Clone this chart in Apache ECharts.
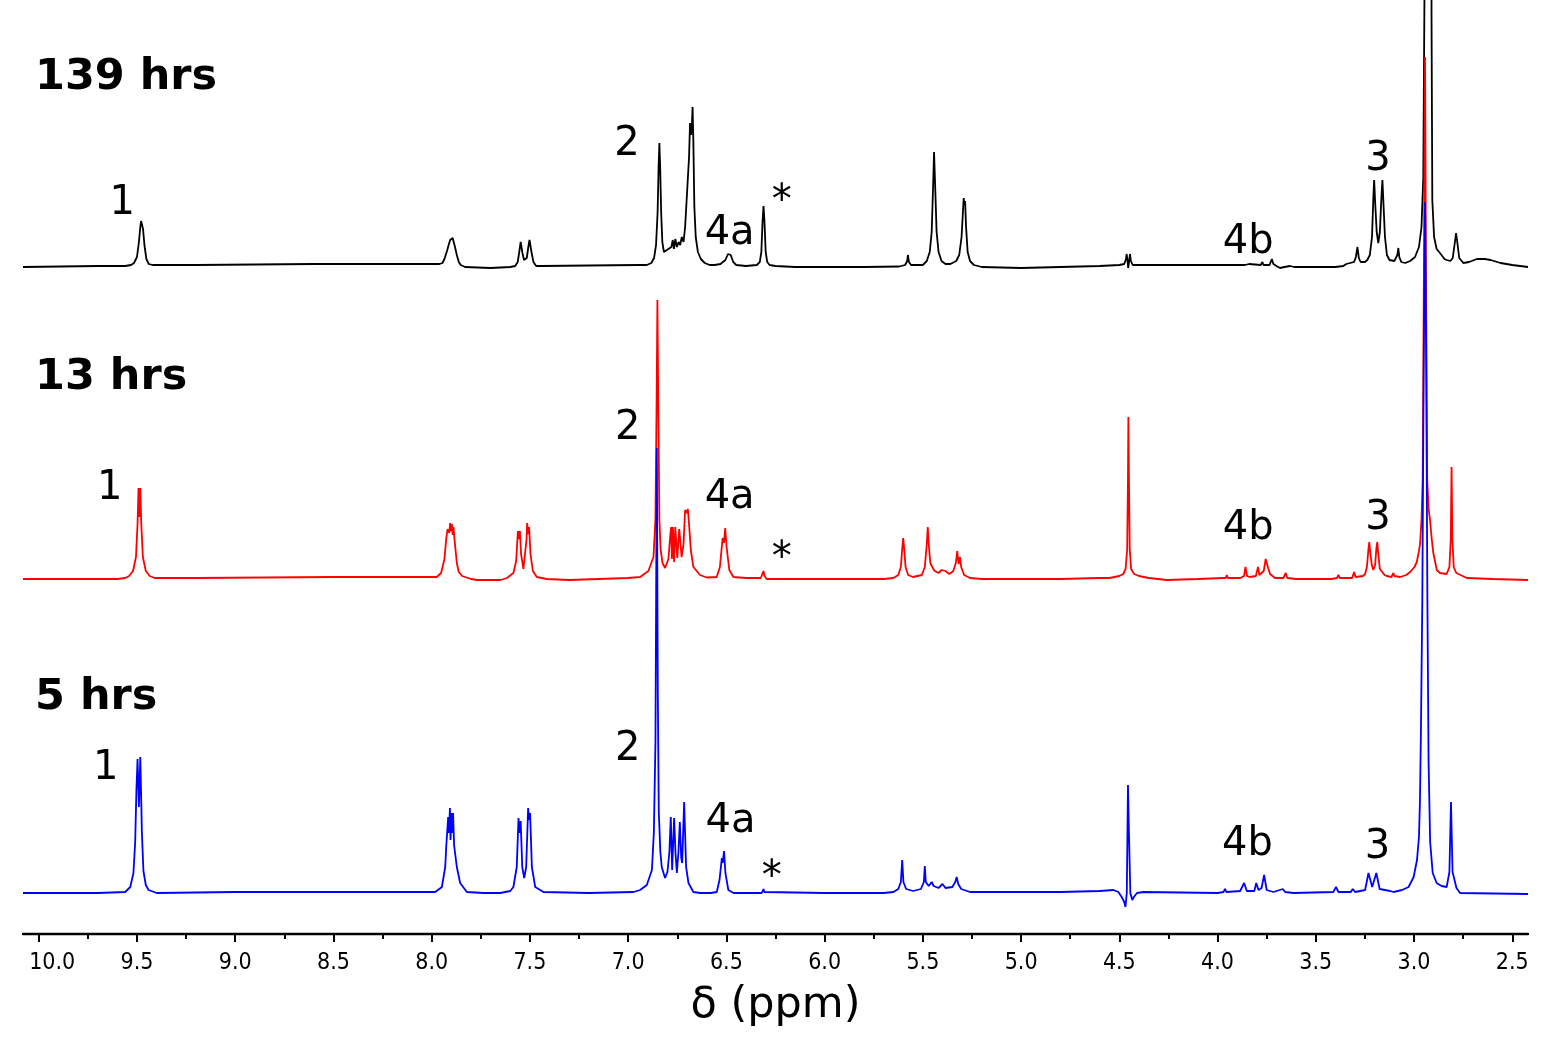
<!DOCTYPE html>
<html>
<head>
<meta charset="utf-8">
<title>NMR stack</title>
<script src="https://cdn.jsdelivr.net/npm/echarts@6/dist/echarts.min.js"></script>
<style>
html, body { margin: 0; padding: 0; background: #fff; }
#main { width: 1553px; height: 1054px; }
</style>
</head>
<body>
<div id="main"></div>
<script>
// 三条谱线的名称与颜色
var traceNames = ['139 hrs', '13 hrs', '5 hrs'];
var traceColors = ['#000000', '#ff0000', '#0000ff'];

// x轴刻度 (ppm)
var majorTicks = [10.0, 9.5, 9.0, 8.5, 8.0, 7.5, 7.0, 6.5, 6.0, 5.5, 5.0, 4.5, 4.0, 3.5, 3.0, 2.5];
var minorTicks = [9.75, 9.25, 8.75, 8.25, 7.75, 7.25, 6.75, 6.25, 5.75, 5.25, 4.75, 4.25, 3.75, 3.25, 2.75];

// 谱线数据: [ppm, 相对基线的强度]
var spec139 = [
  [10.08,0],[9.70,1],[9.56,1],[9.53,2],[9.515,4],[9.500,10],[9.490,25],[9.483,40],[9.479,46],[9.477,44],[9.474,48],[9.469,38],[9.462,22],[9.452,8],[9.440,3],[9.42,2],
  [9.2,2],[8.6,3],[8.2,3],[7.96,3],[7.945,4],[7.935,8],[7.922,16],[7.915,21],[7.906,27],[7.902,29],[7.898,26],[7.893,29],[7.889,28],[7.880,19],[7.872,12],[7.862,5],[7.852,2],[7.83,0],[7.7,-1],
  [7.6,0],[7.575,1],[7.562,5],[7.552,18],[7.547,25],[7.543,24],[7.538,14],[7.530,7],[7.524,6],[7.516,9],[7.508,20],[7.502,27],[7.498,26],[7.492,15],[7.482,5],[7.468,1],[7.44,1],
  [7.2,1.5],[6.95,2],[6.905,2],[6.882,4],[6.868,9],[6.858,22],[6.850,55],[6.845,100],[6.841,124],[6.837,100],[6.832,55],[6.826,25],[6.818,15],[6.812,13],
  [6.780,20],[6.773,27],[6.767,18],[6.760,28],[6.752,20],[6.743,25],[6.735,22],[6.727,30],[6.718,25],[6.710,40],[6.700,75],[6.690,110],[6.685,144],[6.679,132],[6.675,145],[6.672,160],[6.668,125],[6.663,60],[6.656,30],[6.645,15],[6.630,8],[6.610,4],[6.585,2],
  [6.56,2],[6.530,3],[6.505,7],[6.492,13],[6.486,15],[6.478,12],[6.465,5],[6.450,2],[6.40,1],
  [6.345,2],[6.330,5],[6.322,15],[6.316,45],[6.311,61],[6.306,45],[6.300,15],[6.292,5],[6.280,2],[6.25,1],[6.15,0],[5.8,0],
  [5.62,0.5],[5.590,2],[5.580,6],[5.576,12],[5.571,5],[5.560,2],[5.50,2],[5.480,6],[5.465,15],[5.455,35],[5.448,80],[5.443,115],[5.438,85],[5.430,35],[5.420,15],[5.405,6],[5.385,3],
  [5.36,3],[5.33,6],[5.315,12],[5.303,30],[5.296,55],[5.292,69],[5.289,62],[5.285,66],[5.280,40],[5.272,15],[5.260,6],[5.240,2],[5.20,0],[5.0,-1],[4.8,0],[4.6,1],
  [4.50,2],[4.475,3],[4.466,8],[4.463,13],[4.458,6],[4.455,-1],[4.450,6],[4.446,13],[4.441,6],[4.432,2],[4.40,2],
  [3.86,2],[3.840,3],[3.835,4],[3.830,2],[3.78,2],[3.772,5],[3.766,2],[3.735,2],[3.724,8],[3.716,3],[3.700,1],[3.682,-1],[3.660,0],[3.631,1],[3.61,0],[3.40,0],
  [3.36,1],[3.345,3],[3.305,5],[3.296,10],[3.288,20],[3.281,9],[3.272,5],[3.250,5],[3.238,7],[3.225,12],[3.214,30],[3.207,70],[3.203,87],[3.198,65],[3.190,35],[3.182,24],
  [3.174,35],[3.166,70],[3.161,87],[3.156,65],[3.148,30],[3.138,12],[3.125,7],[3.100,6],[3.092,8],[3.085,12],[3.080,19],[3.075,10],[3.065,5],[3.045,4],[3.020,6],[2.995,10],
  [2.975,20],[2.962,40],[2.953,90],[2.946,300],[2.940,900],[2.933,2000],[2.927,2400],[2.921,2000],[2.915,900],[2.911,250],[2.907,67],[2.898,30],[2.885,18],[2.868,14],
  [2.845,8],[2.834,7],[2.815,6],[2.803,9],[2.792,25],[2.786,34],[2.780,25],[2.770,9],[2.749,4],[2.72,5],[2.68,8],[2.64,8],[2.61,7],[2.56,4],[2.50,2],[2.42,0]
];

var spec13 = [
  [10.08,0],[9.70,0],[9.60,0],[9.560,1],[9.540,3],[9.520,8],[9.505,22],[9.497,55],[9.492,91],[9.488,62],[9.483,91],[9.478,55],[9.470,22],[9.455,8],[9.435,3],[9.41,1],
  [9.2,1],[8.5,2],[8.1,2],[7.974,2],[7.952,6],[7.935,20],[7.926,40],[7.919,50],[7.914,52],[7.910,46],[7.906,56],[7.902,48],[7.897,55],[7.893,44],[7.889,52],[7.884,40],[7.879,30],
  [7.872,16],[7.862,7],[7.845,3],[7.80,0],[7.770,-1],[7.65,-1],
  [7.617,1],[7.584,6],[7.570,18],[7.561,48],[7.557,40],[7.551,48],[7.545,25],[7.533,10],[7.524,12],[7.517,40],[7.514,56],[7.509,45],[7.504,52],[7.497,25],[7.485,8],[7.465,2],[7.414,0],
  [7.3,-1],[7.0,1],[6.939,2],[6.897,8],[6.871,22],[6.861,60],[6.855,180],[6.851,279],[6.847,180],[6.841,60],[6.835,30],[6.825,16],[6.812,11],
  [6.795,20],[6.785,45],[6.781,52],[6.777,20],[6.772,52],[6.766,17],[6.760,52],[6.750,21],[6.740,50],[6.728,22],[6.718,35],[6.710,69],[6.705,71],[6.701,66],[6.696,70],
  [6.689,52],[6.681,29],[6.668,12],[6.634,4],[6.600,1.5],
  [6.549,2],[6.533,12],[6.519,41],[6.512,36],[6.506,51],[6.499,32],[6.485,9],[6.464,2],[6.40,1],
  [6.325,1],[6.316,3],[6.311,8],[6.306,3],[6.295,0],[6.0,0],[5.7,0],
  [5.65,1],[5.625,4],[5.612,12],[5.605,30],[5.600,41],[5.595,30],[5.588,12],[5.575,4],[5.55,2],[5.505,4],[5.490,12],[5.480,35],[5.475,52],[5.470,35],[5.462,16],
  [5.452,12],[5.440,8],[5.420,6],[5.405,9],[5.395,10],[5.385,8],[5.365,5],[5.345,8],[5.332,16],[5.325,28],[5.318,15],[5.311,22],[5.305,12],[5.290,4],[5.260,1],[5.20,0],
  [4.80,0],[4.60,1],[4.55,1],[4.50,3],[4.480,5],[4.468,10],[4.460,30],[4.456,100],[4.454,162],[4.451,100],[4.447,30],[4.440,10],[4.425,5],[4.40,3],[4.35,1],[4.258,-1],[4.10,0],
  [3.97,1],[3.958,1],[3.953,4],[3.948,1],[3.885,1],[3.865,3],[3.858,12],[3.850,3],[3.837,2],[3.805,3],[3.794,12],[3.787,4],[3.780,4],[3.765,8],[3.755,20],[3.750,22],
  [3.744,12],[3.733,5],[3.708,1],[3.665,1],[3.653,6],[3.645,1],[3.60,0],[3.42,0],
  [3.392,1],[3.385,4],[3.378,1],[3.315,1],[3.305,7],[3.298,2],[3.260,3],[3.249,5],[3.240,12],[3.232,30],[3.228,37],[3.222,25],[3.215,14],[3.207,9],[3.198,14],[3.192,30],
  [3.187,37],[3.182,25],[3.174,10],[3.164,8],[3.150,4],[3.139,3],[3.115,2],[3.108,4],[3.105,6],[3.100,3],[3.090,1],[3.071,2],[3.040,4],[3.020,7],[2.998,12],[2.986,17],
  [2.975,28],[2.969,36],[2.962,60],[2.956,100],[2.950,300],[2.944,522],[2.939,300],[2.933,100],[2.926,70],[2.919,60],[2.910,40],[2.902,26],[2.884,9],[2.868,6],[2.834,5],
  [2.820,12],[2.813,40],[2.809,112],[2.805,40],[2.798,12],[2.785,6],[2.774,5],[2.732,1],[2.60,0],[2.42,-1]
];

var spec5 = [
  [10.08,-1],[9.70,-1],[9.560,0],[9.534,5],[9.518,19],[9.509,50],[9.503,100],[9.497,133],[9.490,85],[9.483,135],[9.478,90],[9.475,60],[9.467,21],[9.455,7],[9.441,2],[9.399,-1],
  [9.0,0],[8.5,0],[8.0,0],[7.982,0],[7.948,5],[7.931,25],[7.926,45],[7.921,43],[7.916,75],[7.912,59],[7.907,84],[7.904,52],[7.899,79],[7.896,59],[7.891,79],[7.886,47],
  [7.880,47],[7.872,25],[7.855,9],[7.821,0],[7.736,-1],[7.65,-1],
  [7.600,1],[7.584,5],[7.567,25],[7.558,74],[7.553,59],[7.547,71],[7.539,25],[7.529,14],[7.519,25],[7.509,84],[7.504,72],[7.499,79],[7.490,25],[7.473,5],[7.431,0],
  [7.2,-1],[6.973,0],[6.939,2],[6.905,7],[6.879,22],[6.869,60],[6.861,150],[6.854,444],[6.849,200],[6.844,80],[6.836,40],[6.829,25],[6.812,14],
  [6.800,20],[6.790,40],[6.783,75],[6.776,22],[6.766,74],[6.759,39],[6.752,19],[6.744,40],[6.737,70],[6.730,35],[6.725,29],[6.715,90],[6.705,25],[6.693,9],[6.668,0],[6.634,-1],
  [6.58,-1],[6.549,0],[6.535,12],[6.523,34],[6.519,29],[6.512,41],[6.505,19],[6.490,2],[6.464,-1],
  [6.32,-1],[6.315,0],[6.311,3],[6.307,0],[6.0,-1],[5.7,-1],
  [5.65,0],[5.625,3],[5.612,10],[5.605,32],[5.599,10],[5.585,3],[5.55,1],[5.51,3],[5.495,10],[5.490,26],[5.485,10],[5.470,6],[5.455,10],[5.445,6],[5.420,4],[5.400,8],
  [5.385,4],[5.350,5],[5.335,10],[5.328,15],[5.320,8],[5.305,3],[5.26,0],[4.80,0],[4.60,1],
  [4.530,2],[4.505,0],[4.488,-5],[4.475,-10],[4.469,-15],[4.462,-1],[4.456,107],[4.451,59],[4.444,-1],[4.434,-8],[4.426,-5],[4.410,-1],[4.377,0],[4.0,-1],
  [3.970,0],[3.962,3],[3.955,0],[3.885,1],[3.865,9],[3.851,1],[3.813,1],[3.803,9],[3.792,2],[3.776,4],[3.763,17],[3.750,2],[3.716,0],[3.668,3],[3.656,0],[3.614,-1],
  [3.411,0],[3.397,5],[3.385,0],[3.322,0],[3.312,3],[3.300,0],[3.249,2],[3.232,19],[3.213,5],[3.192,19],[3.175,3],[3.122,1],[3.113,3],[3.104,0],[3.061,2],[3.028,5],
  [3.002,15],[2.985,32],[2.975,55],[2.970,90],[2.965,160],[2.958,290],[2.951,520],[2.944,690],[2.938,520],[2.932,290],[2.926,130],[2.918,50],[2.905,19],[2.885,9],
  [2.860,6],[2.834,5],[2.820,20],[2.812,90],[2.804,20],[2.784,4],[2.766,-1],[2.42,-2]
];

// 峰的标注: [ppm, 相对基线的高度, 文本]
var labels139 = [[9.573, 63, '1'], [7.003, 122, '2'], [6.481, 33, '4a'], [6.216, 64, '*'], [3.842, 24, '4b'], [3.181, 107, '3']];
var labels13 = [[9.636, 90, '1'], [7.000, 150, '2'], [6.481, 81, '4a'], [6.216, 19, '*'], [3.842, 50, '4b'], [3.181, 60, '3']];
var labels5 = [[9.656, 123, '1'], [7.000, 142, '2'], [6.476, 70, '4a'], [6.267, 13, '*'], [3.845, 47, '4b'], [3.183, 44, '3']];

// 堆叠偏移 (纵轴单位) 与谱线名称的纵向位置 (像素)
var traceOffsets = [667, 355, 42];
var nameTops = [78, 378, 698];

var spectra = [spec139, spec13, spec5];
var peakLabels = [labels139, labels13, labels5];

var div = document.getElementById('main');
var myChart = echarts.init(div, null, { renderer: 'canvas' });

var lineSeries = spectra.map(function (s, i) {
    return {
        name: traceNames[i],
        type: 'line',
        data: s.map(function (p) { return [p[0], p[1] + traceOffsets[i]]; }),
        showSymbol: false,
        symbol: 'none',
        clip: true,
        silent: true,
        z: 2 + i,
        lineStyle: { color: traceColors[i], width: 1.8 }
    };
});

var labelData = [];
peakLabels.forEach(function (list, i) {
    list.forEach(function (l) {
        labelData.push({ value: [l[0], l[1] + traceOffsets[i]], name: l[2] });
    });
});

var option = {
    backgroundColor: '#ffffff',
    animation: false,
    grid: { left: 23, right: 25, top: 0, bottom: 120, containLabel: false, outerBoundsMode: 'none' },
    xAxis: [{
        type: 'value',
        inverse: true,
        min: 2.42,
        max: 10.08,
        axisLine: { show: true, onZero: false, lineStyle: { color: '#000', width: 2.4 } },
        axisTick: { show: true, inside: false, length: 8, customValues: majorTicks, lineStyle: { color: '#000', width: 2 } },
        axisLabel: {
            customValues: majorTicks,
            margin: 18,
            color: '#000',
            fontFamily: 'DejaVu Sans Condensed',
            fontSize: 23,
            formatter: function (v) {
                return v === 10 ? '{a|10.0}' : v.toFixed(1);
            },
            rich: { a: { padding: [0, 0, 0, 27], color: '#000', fontFamily: 'DejaVu Sans Condensed', fontSize: 23 } }
        },
        splitLine: { show: false },
        name: 'δ (ppm)',
        nameLocation: 'middle',
        nameGap: 50,
        nameTextStyle: { color: '#000', fontFamily: 'DejaVu Sans', fontSize: 43 }
    }, {
        type: 'value',
        inverse: true,
        min: 2.42,
        max: 10.08,
        position: 'bottom',
        axisLine: { show: false },
        axisTick: { show: true, inside: false, length: 5, customValues: minorTicks, lineStyle: { color: '#000', width: 2 } },
        axisLabel: { show: false },
        splitLine: { show: false }
    }],
    yAxis: { type: 'value', min: 0, max: 934, show: false },
    graphic: traceNames.map(function (n, i) {
        return {
            type: 'text',
            x: 35,
            y: nameTops[i],
            style: {
                text: n,
                fill: '#000',
                font: 'bold 43px "DejaVu Sans"',
                align: 'left',
                verticalAlign: 'middle',
                textAlign: 'left',
                textVerticalAlign: 'middle'
            }
        };
    }),
    series: lineSeries.concat([{
        type: 'scatter',
        symbolSize: 1,
        silent: true,
        z: 10,
        itemStyle: { color: 'rgba(0,0,0,0)', opacity: 1 },
        data: labelData,
        label: {
            show: true,
            position: [0, 0],
            align: 'center',
            verticalAlign: 'middle',
            formatter: function (p) { return p.data.name; },
            color: '#000000',
            fontFamily: 'DejaVu Sans',
            fontSize: 40
        }
    }])
};

myChart.setOption(option);
</script>
</body>
</html>
